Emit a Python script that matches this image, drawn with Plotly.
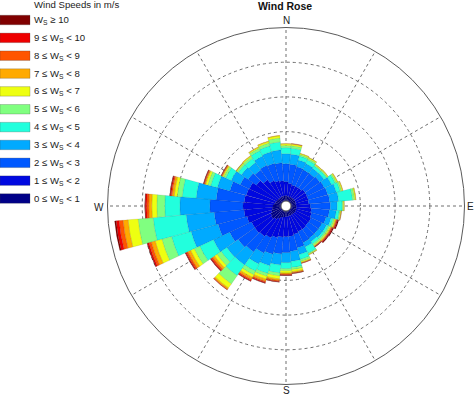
import plotly.graph_objects as go

# 36 direction sectors (compass degrees, clockwise from north)
directions = list(range(0, 360, 10))

# Frequency (%) per direction for each wind-speed class
ws_0_1 = [0.30, 0.28, 0.27, 0.28, 0.29, 0.31, 0.30, 0.29, 0.28, 0.30, 0.31, 0.32, 0.33, 0.32, 0.31, 0.30, 0.30, 0.31,
          0.32, 0.35, 0.40, 0.52, 0.64, 0.75, 0.69, 0.58, 0.52, 0.46, 0.40, 0.35, 0.31, 0.30, 0.29, 0.29, 0.30, 0.30]
ws_1_2 = [0.81, 0.75, 0.69, 0.69, 0.69, 0.75, 0.75, 0.75, 0.75, 0.81, 0.87, 0.92, 0.98, 0.98, 1.04, 1.04, 1.10, 1.16,
          1.16, 1.16, 1.21, 1.21, 1.21, 1.16, 1.21, 1.45, 1.62, 1.73, 1.73, 1.73, 1.73, 1.50, 1.27, 1.04, 0.92, 0.87]
ws_2_3 = [1.04, 1.10, 1.10, 1.04, 1.04, 1.04, 1.10, 1.16, 1.21, 1.16, 1.04, 0.87, 0.69, 0.69, 0.64, 0.69, 0.81, 0.87,
          0.92, 0.98, 0.98, 0.98, 1.10, 1.16, 1.39, 1.73, 1.73, 1.91, 1.62, 0.98, 0.58, 0.58, 0.69, 0.98, 1.04, 1.04]
ws_3_4 = [0.58, 0.58, 0.40, 0.40, 0.35, 0.29, 0.46, 0.52, 0.52, 0.40, 0.40, 0.29, 0.29, 0.29, 0.23, 0.29, 0.40, 0.58,
          0.58, 0.64, 0.69, 0.69, 0.92, 0.81, 1.04, 1.62, 1.62, 1.73, 1.16, 0.75, 0.58, 0.46, 0.52, 0.58, 0.69, 0.75]
ws_4_5 = [0.35, 0.35, 0.23, 0.23, 0.17, 0.17, 0.23, 0.23, 0.81, 0.29, 0.17, 0.12, 0.12, 0.12, 0.17, 0.40, 0.29, 0.35,
          0.35, 0.46, 0.46, 0.46, 0.75, 0.40, 0.87, 1.16, 1.91, 0.87, 0.81, 0.40, 0.35, 0.23, 0.29, 0.35, 0.35, 0.46]
ws_5_6 = [0.12, 0.14, 0.09, 0.09, 0.06, 0.06, 0.09, 0.09, 0.12, 0.06, 0.06, 0.09, 0.09, 0.09, 0.09, 0.06, 0.12, 0.12,
          0.12, 0.17, 0.17, 0.23, 0.58, 0.29, 0.35, 0.58, 0.87, 0.46, 0.29, 0.17, 0.12, 0.09, 0.12, 0.14, 0.17, 0.23]
ws_6_7 = [0.09, 0.09, 0.06, 0.06, 0.05, 0.05, 0.06, 0.06, 0.06, 0.05, 0.05, 0.06, 0.06, 0.06, 0.05, 0.03, 0.06, 0.12,
          0.12, 0.17, 0.17, 0.17, 0.29, 0.17, 0.23, 0.40, 0.58, 0.29, 0.17, 0.12, 0.07, 0.05, 0.06, 0.07, 0.09, 0.12]
ws_7_8 = [0.03, 0.03, 0.02, 0.02, 0.01, 0.01, 0.02, 0.02, 0.02, 0.01, 0.02, 0.05, 0.05, 0.05, 0.03, 0.02, 0.03, 0.06,
          0.06, 0.09, 0.12, 0.12, 0.09, 0.12, 0.17, 0.23, 0.29, 0.17, 0.12, 0.06, 0.05, 0.02, 0.03, 0.03, 0.03, 0.03]
ws_8_9 = [0, 0.01, 0, 0, 0, 0, 0, 0, 0, 0, 0.01, 0.03, 0.03, 0.03, 0.02, 0, 0.02, 0.03,
          0.05, 0.06, 0.06, 0.07, 0.03, 0.09, 0.09, 0.14, 0.23, 0.12, 0.06, 0.04, 0.03, 0.01, 0, 0, 0, 0]
ws_9_10 = [0, 0, 0, 0, 0, 0, 0, 0, 0, 0, 0, 0.05, 0.05, 0.04, 0.02, 0, 0.01, 0.02,
           0.03, 0.03, 0.05, 0.05, 0.02, 0.06, 0.06, 0.09, 0.17, 0.09, 0.06, 0.03, 0.02, 0, 0, 0, 0, 0]
ws_10_up = [0, 0, 0, 0, 0, 0, 0, 0, 0, 0, 0, 0.06, 0.06, 0.05, 0.02, 0, 0, 0.01,
            0.02, 0.02, 0.02, 0.02, 0, 0.03, 0.03, 0.03, 0.09, 0.03, 0.03, 0.02, 0.01, 0, 0, 0, 0, 0]

speed_bins = [ws_0_1, ws_1_2, ws_2_3, ws_3_4, ws_4_5, ws_5_6, ws_6_7, ws_7_8, ws_8_9, ws_9_10, ws_10_up]
bin_labels = ["0 ≤ W<sub>S</sub> &lt; 1", "1 ≤ W<sub>S</sub> &lt; 2", "2 ≤ W<sub>S</sub> &lt; 3",
              "3 ≤ W<sub>S</sub> &lt; 4", "4 ≤ W<sub>S</sub> &lt; 5", "5 ≤ W<sub>S</sub> &lt; 6",
              "6 ≤ W<sub>S</sub> &lt; 7", "7 ≤ W<sub>S</sub> &lt; 8", "8 ≤ W<sub>S</sub> &lt; 9",
              "9 ≤ W<sub>S</sub> &lt; 10", "W<sub>S</sub> ≥ 10"]
bin_colors = ["#000088", "#0008E0", "#0058FF", "#00AAFF", "#22FFDD", "#80FF80",
              "#EEFF11", "#FFAA00", "#FF5500", "#EE0000", "#800000"]

grid_angles = list(range(0, 360, 30))
compass_labels = ["N", "E", "S", "W"]

W, H = 474, 395
FONT = "Arial, Liberation Sans, sans-serif"

fig = go.Figure()
for vals, name, col in zip(speed_bins, bin_labels, bin_colors):
    fig.add_trace(go.Barpolar(
        r=vals, theta=directions, width=10, name=name,
        marker=dict(color=col, line=dict(color="rgba(30,30,30,0.25)", width=0.4)),
        showlegend=False,
    ))

# Legend drawn as rectangles + text (top: highest speed)
shapes, annotations = [], []
row0, row_step, box_h, box_w = 20, 17.85, 9.5, 30
for i, (name, col) in enumerate(zip(bin_labels[::-1], bin_colors[::-1])):
    yc = row0 + i * row_step
    shapes.append(dict(type="rect", xref="paper", yref="paper",
                       x0=0, x1=box_w / W, y0=1 - (yc + box_h / 2) / H, y1=1 - (yc - box_h / 2) / H,
                       fillcolor=col, line=dict(width=0.5, color="rgba(60,60,60,0.5)")))
    annotations.append(dict(text=name, xref="paper", yref="paper", x=32 / W, y=1 - yc / H,
                            xanchor="left", yanchor="middle", showarrow=False,
                            font=dict(family=FONT, size=9.6, color="#222")))

annotations.append(dict(text="Wind Speeds in m/s", xref="paper", yref="paper", x=32 / W, y=1 - 5 / H,
                        xanchor="left", yanchor="middle", showarrow=False,
                        font=dict(family=FONT, size=9.6, color="#222")))
annotations.append(dict(text="<b>Wind Rose</b>", xref="paper", yref="paper", x=285 / W, y=1 - 6 / H,
                        xanchor="center", yanchor="middle", showarrow=False,
                        font=dict(family=FONT, size=10.5, color="#111")))

cx, cy, R = 286, 206, 178.5
# compass letters just outside the outer circle
label_pos = [(cx, cy - R - 6.5), (cx + R + 6, cy), (cx, cy + R + 6), (cx - R - 9, cy + 1)]
for lab, (lx, ly) in zip(compass_labels, label_pos):
    annotations.append(dict(text=lab, xref="paper", yref="paper", x=lx / W, y=1 - ly / H,
                            xanchor="center", yanchor="middle", showarrow=False,
                            font=dict(family=FONT, size=10, color="#222")))

fig.update_layout(
    width=W, height=H, margin=dict(l=0, r=0, t=0, b=0),
    paper_bgcolor="white", plot_bgcolor="white",
    shapes=shapes, annotations=annotations,
    polar=dict(
        domain=dict(x=[(cx - R) / W, (cx + R) / W], y=[1 - (cy + R) / H, 1 - (cy - R) / H]),
        bgcolor="white", hole=0.028, bargap=0, barmode="stack",
        radialaxis=dict(range=[0, 10], tickvals=[2, 4, 6, 8], showticklabels=False, ticks="",
                        showline=False, showgrid=True, gridcolor="#6e6e6e", griddash="dot", gridwidth=1,
                        layer="above traces"),
        angularaxis=dict(rotation=90, direction="clockwise", tickmode="array",
                         tickvals=grid_angles, showticklabels=False,
                         showgrid=True, gridcolor="#6e6e6e", griddash="dot", gridwidth=1,
                         showline=True, linecolor="#5a5a5a", linewidth=1,
                         ticks="", layer="above traces"),
    ),
)

fig.write_html("out.html")
